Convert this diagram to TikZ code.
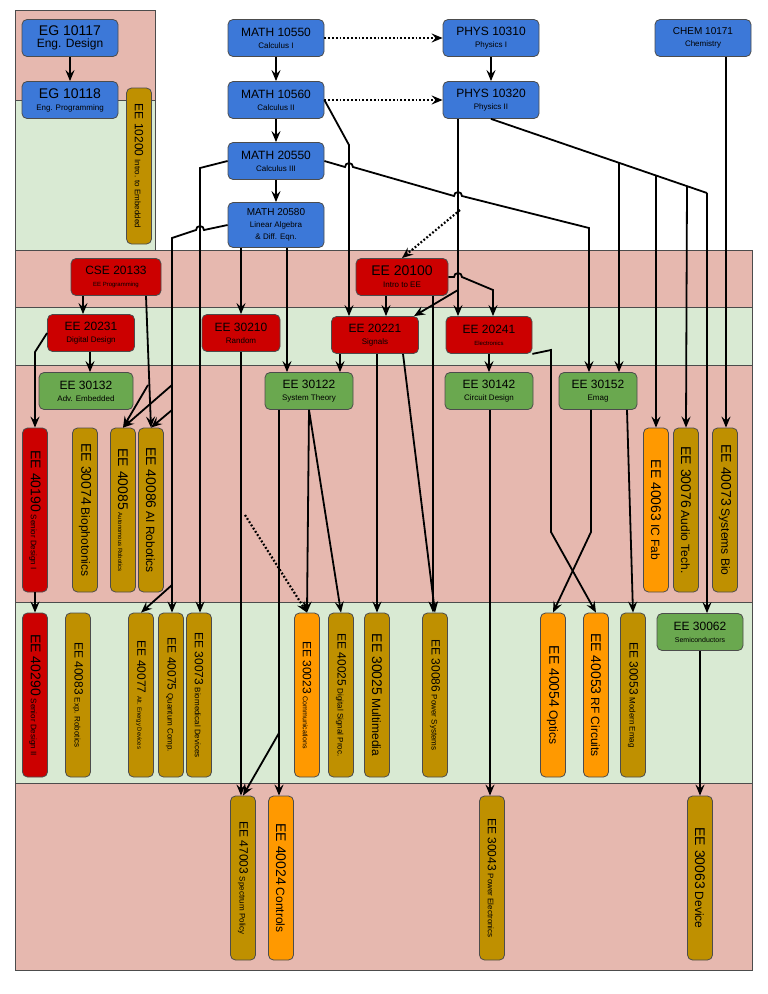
\documentclass[tikz,border=0pt]{standalone}
\usepackage{fontspec}
\setmainfont{Liberation Sans}
\usetikzlibrary{positioning,arrows.meta}
\definecolor{bandpink}{HTML}{E6B8AF}
\definecolor{bandgreen}{HTML}{D9EAD3}
\definecolor{cblue}{HTML}{3C78D8}
\definecolor{cred}{HTML}{CC0000}
\definecolor{cgreen}{HTML}{6AA84F}
\definecolor{cgold}{HTML}{BF9000}
\definecolor{corange}{HTML}{FF9900}
\newcommand{\cnum}[1]{{\fontsize{12}{14}\selectfont #1}}
\newcommand{\cvnum}[1]{{\fontsize{14}{16}\selectfont #1}}
\newcommand{\csub}[1]{{\fontsize{8}{9}\selectfont #1}}
\tikzset{
  band/.style={draw=black!70, line width=0.8pt},
  pink/.style={fill=bandpink},
  mint/.style={fill=bandgreen},
  course/.style={rectangle, rounded corners=5pt, draw=black!70, line width=0.8pt, align=center, inner sep=1pt, minimum height=37pt},
  vcourse/.style={rectangle, rounded corners=5pt, draw=black!70, line width=0.8pt, inner sep=0pt, minimum width=25pt, minimum height=164pt},
  blue/.style={fill=cblue},
  red/.style={fill=cred},
  green/.style={fill=cgreen},
  gold/.style={fill=cgold},
  orange/.style={fill=corange},
  pre/.style={line width=1.8pt, -{Stealth[length=11pt,width=9pt,inset=4pt]}},
  coreq/.style={pre, dotted, line width=2.2pt},
  link/.style={line width=1.8pt},
}
\begin{document}
\begin{tikzpicture}[x=1pt,y=-1pt]
\useasboundingbox (0,0) rectangle (768,994);
%Bands
\filldraw[band, pink] (15,10) rectangle (155,100);
\filldraw[band, mint] (15,100) rectangle (155,250);
\filldraw[band, pink] (15,250) rectangle (752,307);
\filldraw[band, mint] (15,307) rectangle (752,365);
\filldraw[band, pink] (15,365) rectangle (752,602);
\filldraw[band, mint] (15,602) rectangle (752,783);
\filldraw[band, pink] (15,783) rectangle (752,970);

%Nodes
\node[course, blue, minimum width=96pt] (eg10117) at (70,38) {\cvnum{EG 10117}\\\cnum{Eng. Design}};
\node[course, blue, minimum width=96pt] (eg10118) at (70,100) {\cvnum{EG 10118}\\\csub{Eng. Programming}};
\node[vcourse, gold, minimum height=156pt] (e10200) at (139,166) {\rotatebox{-90}{\cnum{EE 10200} \csub{Intro. to Embedded}}};
\node[course, blue, minimum width=96pt] (m10550) at (276,38) {\cnum{MATH 10550}\\\csub{Calculus I}};
\node[course, blue, minimum width=96pt] (m10560) at (276,100) {\cnum{MATH 10560}\\\csub{Calculus II}};
\node[course, blue, minimum width=96pt] (m20550) at (276,161) {\cnum{MATH 20550}\\\csub{Calculus III}};
\node[course, blue, minimum width=96pt, minimum height=45pt] (m20580) at (276,225) {\csub{\fontsize{10}{11}\selectfont MATH 20580}\\\csub{Linear Algebra}\\\csub{\& Diff. Eqn.}};
\node[course, blue, minimum width=96pt] (p10310) at (491,38) {\cnum{PHYS 10310}\\\csub{Physics I}};
\node[course, blue, minimum width=96pt] (p10320) at (491,100) {\cnum{PHYS 10320}\\\csub{Physics II}};
\node[course, blue, minimum width=96pt] (c10171) at (703,38) {\csub{\fontsize{10}{11}\selectfont CHEM 10171}\\\csub{Chemistry}};

\node[course, red, minimum width=90pt] (cse20133) at (116,277) {\cnum{CSE 20133}\\{\fontsize{6}{7}\selectfont EE Programming}};
\node[course, red, minimum width=92pt] (e20100) at (402,277) {\cvnum{EE 20100}\\\csub{Intro to EE}};
\node[course, red, minimum width=87pt] (e20231) at (91,333) {\cnum{EE 20231}\\\csub{Digital Design}};
\node[course, red, minimum width=78pt] (e30210) at (241,333) {\cnum{EE 30210}\\\csub{Random}};
\node[course, red, minimum width=87pt] (e20221) at (375,335) {\cnum{EE 20221}\\\csub{Signals}};
\node[course, red, minimum width=86pt] (e20241) at (489,335) {\cnum{EE 20241}\\{\fontsize{6}{7}\selectfont Electronics}};

\node[course, green, minimum width=94pt] (e30132) at (86,391) {\cnum{EE 30132}\\\csub{Adv. Embedded}};
\node[course, green, minimum width=88pt] (e30122) at (309,391) {\cnum{EE 30122}\\\csub{System Theory}};
\node[course, green, minimum width=88pt] (e30142) at (489,391) {\cnum{EE 30142}\\\csub{Circuit Design}};
\node[course, green, minimum width=78pt] (e30152) at (598,391) {\cnum{EE 30152}\\\csub{Emag}};
\node[course, green, minimum width=86pt] (e30062) at (700,632) {\cnum{EE 30062}\\{\fontsize{7}{8}\selectfont Semiconductors}};

\node[vcourse, red] (e40190) at (35,510) {\rotatebox{-90}{\cvnum{EE 40190} \csub{Senior Design I}}};
\node[vcourse, gold] (e30074) at (85,510) {\rotatebox{-90}{\cvnum{EE 30074} \cnum{Biophotonics}}};
\node[vcourse, gold] (e40085) at (123,510) {\rotatebox{-90}{\cvnum{EE 40085} {\fontsize{6}{7}\selectfont Autonomous Robotics}}};
\node[vcourse, gold] (e40086) at (151,510) {\rotatebox{-90}{\cvnum{EE 40086} \cnum{AI Robotics}}};
\node[vcourse, orange] (e40063) at (656,510) {\rotatebox{-90}{\cvnum{EE 40063} \cnum{IC Fab}}};
\node[vcourse, gold] (e30076) at (686,510) {\rotatebox{-90}{\cvnum{EE 30076} \cnum{Audio Tech.}}};
\node[vcourse, gold] (e40073) at (725,510) {\rotatebox{-90}{\cvnum{EE 40073} \cnum{Systems Bio}}};

\node[vcourse, red] (e40290) at (35,695) {\rotatebox{-90}{\cvnum{EE 40290} \csub{Senior Design II}}};
\node[vcourse, gold] (e40083) at (78,695) {\rotatebox{-90}{\cnum{EE 40083} \csub{Exp. Robotics}}};
\node[vcourse, gold] (e40077) at (141,695) {\rotatebox{-90}{\cnum{EE 40077} {\fontsize{6}{7}\selectfont Alt. Energy Devices}}};
\node[vcourse, gold] (e40075) at (171,695) {\rotatebox{-90}{\cnum{EE 40075} \csub{Quantum Comp.}}};
\node[vcourse, gold] (e30073) at (199,695) {\rotatebox{-90}{\cnum{EE 30073} \csub{Biomedical Devices}}};
\node[vcourse, orange] (e30023) at (307,695) {\rotatebox{-90}{\cnum{EE 30023} {\fontsize{7}{8}\selectfont Communications}}};
\node[vcourse, gold] (e40025) at (341,695) {\rotatebox{-90}{\cnum{EE 40025} \csub{Digital Signal Proc.}}};
\node[vcourse, gold] (e30025) at (377,695) {\rotatebox{-90}{\cvnum{EE 30025} \cnum{Multimedia}}};
\node[vcourse, gold] (e30086) at (435,695) {\rotatebox{-90}{\cnum{EE 30086} \csub{Power Systems}}};
\node[vcourse, orange] (e40054) at (553,695) {\rotatebox{-90}{\cvnum{EE 40054} \cnum{Optics}}};
\node[vcourse, orange] (e40053) at (596,695) {\rotatebox{-90}{\cvnum{EE 40053} \cnum{RF Circuits}}};
\node[vcourse, gold] (e30053) at (633,695) {\rotatebox{-90}{\cnum{EE 30053} \csub{Modern Emag}}};

\node[vcourse, gold] (e47003) at (243,878) {\rotatebox{-90}{\cnum{EE 47003} \csub{Spectrum Policy}}};
\node[vcourse, orange] (e40024) at (281,878) {\rotatebox{-90}{\cvnum{EE 40024} \cnum{Controls}}};
\node[vcourse, gold] (e30043) at (492,878) {\rotatebox{-90}{\cnum{EE 30043} \csub{Power Electronics}}};
\node[vcourse, gold] (e30063) at (700,878) {\rotatebox{-90}{\cvnum{EE 30063} \cnum{Device}}};

%Lines
\draw[pre] (eg10117) -- (eg10118);
\draw[pre] (m10550) -- (m10560);
\draw[pre] (m10560) -- (m20550);
\draw[pre] (m20550) -- (m20580);
\draw[pre] (p10310) -- (p10320);
\draw[coreq] (m10550) -- (p10310);
\draw[coreq] (m10560) -- (p10320);
\draw[pre] (m10560.east) -- (349,145) -- (349,0 |- e20221.north);
\draw[pre] (m20550.east) -- (345,167) arc[start angle=180, end angle=360, radius=4] -- (454,196) arc[start angle=180, end angle=360, radius=4] -- (589,228) -- (589,0 |- e30152.north);
\draw[pre] (m20550.west) -- (200,168) -- (200,0 |- e30073.north);
\draw[pre] (m20580.west) -- (204,230) arc[start angle=0, end angle=-180, radius=4] -- (172,238) -- (172,0 |- e40075.north);
\draw[pre] (172,385) -- (e40085.north);
\draw[pre] (172,410) -- (e40086.north);
\draw[pre] (172,585) -- (e40077.north);
\draw[pre] (241,0 |- m20580.south) -- (e30210.north);
\draw[pre] (287,0 |- m20580.south) -- (287,0 |- e30122.north);

\draw[pre] (83,0 |- cse20133.south) -- (83,0 |- e20231.north);
\draw[pre] (146,0 |- cse20133.south) -- (e40086.north);
\draw[pre] (148,385) -- (e40085.north);
\draw[pre] (e20231.west) -- (35,352) -- (e40190.north);
\draw[pre] (90,0 |- e20231.south) -- (90,0 |- e30132.north);
\draw[pre] (e40190) -- (e40290);

\draw[pre] (241,0 |- e30210.south) -- (241,0 |- e47003.north);
\draw[coreq] (245,515) -- (e30023.north);
\draw[pre] (279,0 |- e30122.south) -- (279,0 |- e40024.north);
\draw[pre] (279,733) -- (e47003.north);
\draw[pre] (309,0 |- e30122.south) -- (e30023.north);
\draw[pre] (309,0 |- e30122.south) -- (e40025.north);

\draw[pre] (458,0 |- p10320.south) -- (458,0 |- e20241.north);
\draw[pre] (458,290) -- (414,0 |- e20221.north);
\draw[coreq] (460,210) -- (e20100.north);
\draw[pre] (e20100.east) -- (454,277) arc[start angle=180, end angle=360, radius=4] -- (493,290) -- (493,0 |- e20241.north);
\draw[pre] (386,0 |- e20100.south) -- (386,0 |- e20221.north);
\draw[pre] (433,0 |- e20100.south) -- (433,0 |- e30086.north);

\draw[pre] (340,0 |- e20221.south) -- (340,0 |- e30122.north);
\draw[pre] (377,0 |- e20221.south) -- (e30025.north);
\draw[pre] (403,0 |- e20221.south) -- (e30086.north);
\draw[pre] (e20241) -- (e30142);
\draw[pre] (e20241.south east) -- (551,350) -- (551,532) -- (e40053.north);
\draw[pre] (591,0 |- e30152.south) -- (591,532) -- (e40054.north);
\draw[pre] (627,0 |- e30152.south) -- (e30053.north);
\draw[pre] (490,0 |- e30142.south) -- (490,0 |- e30043.north);
\draw[pre] (e30062) -- (e30063);

\draw[link] (p10320.south) -- (707,193);
\draw[pre] (619,162) -- (619,0 |- e30152.north);
\draw[pre] (656,175) -- (e40063.north);
\draw[pre] (687,186) -- (e30076.north);
\draw[pre] (707,193) -- (707,0 |- e30062.north);
\draw[pre] (726,0 |- c10171.south) -- (726,0 |- e40073.north);
\end{tikzpicture}
\end{document}
